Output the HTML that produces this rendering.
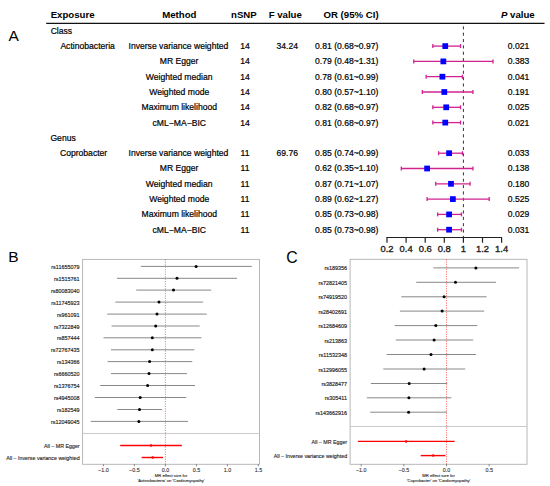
<!DOCTYPE html>
<html><head><meta charset="utf-8"><style>
html,body{margin:0;padding:0;background:#fff;width:550px;height:486px;overflow:hidden}
svg{display:block;font-family:"Liberation Sans",sans-serif}
</style></head><body>
<svg width="550" height="486" viewBox="0 0 550 486">
<rect width="550" height="486" fill="#fff"/>
<text x="8.50" y="40.50" font-size="15.5" text-anchor="start" font-weight="normal" font-style="normal" fill="#000" >A</text>
<text x="50.70" y="17.50" font-size="9.65" text-anchor="start" font-weight="bold" font-style="normal" fill="#000" >Exposure</text>
<text x="179.35" y="17.50" font-size="9.65" text-anchor="middle" font-weight="bold" font-style="normal" fill="#000" >Method</text>
<text x="243.90" y="17.50" font-size="9.65" text-anchor="middle" font-weight="bold" font-style="normal" fill="#000" >nSNP</text>
<text x="285.25" y="17.50" font-size="9.65" text-anchor="middle" font-weight="bold" font-style="normal" fill="#000" >F value</text>
<text x="323.50" y="17.50" font-size="9.65" text-anchor="start" font-weight="bold" font-style="normal" fill="#000" >OR (95% CI)</text>
<text x="501.0" y="17.5" font-size="9.65" font-weight="bold"><tspan font-style="italic">P</tspan> value</text>
<line x1="46.20" y1="23.30" x2="544.50" y2="23.30" stroke="#111" stroke-width="1.3" />
<text x="50.65" y="33.75" font-size="8.6" text-anchor="start" font-weight="normal" font-style="normal" fill="#000" stroke="#000" stroke-width="0.2" >Class</text>
<text x="50.45" y="140.85" font-size="8.6" text-anchor="start" font-weight="normal" font-style="normal" fill="#000" stroke="#000" stroke-width="0.2" >Genus</text>
<text x="60.40" y="49.05" font-size="8.6" text-anchor="start" font-weight="normal" font-style="normal" fill="#000" stroke="#000" stroke-width="0.2" >Actinobacteria</text>
<text x="59.95" y="156.15" font-size="8.6" text-anchor="start" font-weight="normal" font-style="normal" fill="#000" stroke="#000" stroke-width="0.2" >Coprobacter</text>
<line x1="463.40" y1="26.30" x2="463.40" y2="237.50" stroke="#333" stroke-width="1.0" stroke-dasharray="3.1,3.25"/>
<text x="178.45" y="49.05" font-size="8.6" text-anchor="middle" font-weight="normal" font-style="normal" fill="#000" stroke="#000" stroke-width="0.2" >Inverse variance weighted</text>
<text x="245.00" y="49.05" font-size="8.6" text-anchor="middle" font-weight="normal" font-style="normal" fill="#000" stroke="#000" stroke-width="0.2" >14</text>
<text x="276.55" y="49.05" font-size="8.6" text-anchor="start" font-weight="normal" font-style="normal" fill="#000" stroke="#000" stroke-width="0.2" >34.24</text>
<text x="315.05" y="49.05" font-size="8.6" text-anchor="start" font-weight="normal" font-style="normal" fill="#000" stroke="#000" stroke-width="0.2" >0.81 (0.68~0.97)</text>
<text x="507.85" y="49.05" font-size="8.6" text-anchor="start" font-weight="normal" font-style="normal" fill="#000" stroke="#000" stroke-width="0.2" >0.021</text>
<line x1="432.84" y1="46.10" x2="460.53" y2="46.10" stroke="#d2228f" stroke-width="1.3" />
<line x1="432.84" y1="44.10" x2="432.84" y2="48.10" stroke="#d2228f" stroke-width="1.3" />
<line x1="460.53" y1="44.10" x2="460.53" y2="48.10" stroke="#d2228f" stroke-width="1.3" />
<rect x="442.38" y="43.23" width="5.75" height="5.75" fill="#0000ff" />
<text x="179.10" y="64.35" font-size="8.6" text-anchor="middle" font-weight="normal" font-style="normal" fill="#000" stroke="#000" stroke-width="0.2" >MR Egger</text>
<text x="245.00" y="64.35" font-size="8.6" text-anchor="middle" font-weight="normal" font-style="normal" fill="#000" stroke="#000" stroke-width="0.2" >14</text>
<text x="315.05" y="64.35" font-size="8.6" text-anchor="start" font-weight="normal" font-style="normal" fill="#000" stroke="#000" stroke-width="0.2" >0.79 (0.48~1.31)</text>
<text x="507.85" y="64.35" font-size="8.6" text-anchor="start" font-weight="normal" font-style="normal" fill="#000" stroke="#000" stroke-width="0.2" >0.383</text>
<line x1="413.74" y1="61.40" x2="493.00" y2="61.40" stroke="#d2228f" stroke-width="1.3" />
<line x1="413.74" y1="59.40" x2="413.74" y2="63.40" stroke="#d2228f" stroke-width="1.3" />
<line x1="493.00" y1="59.40" x2="493.00" y2="63.40" stroke="#d2228f" stroke-width="1.3" />
<rect x="440.47" y="58.53" width="5.75" height="5.75" fill="#0000ff" />
<text x="179.20" y="79.65" font-size="8.6" text-anchor="middle" font-weight="normal" font-style="normal" fill="#000" stroke="#000" stroke-width="0.2" >Weighted median</text>
<text x="245.00" y="79.65" font-size="8.6" text-anchor="middle" font-weight="normal" font-style="normal" fill="#000" stroke="#000" stroke-width="0.2" >14</text>
<text x="315.05" y="79.65" font-size="8.6" text-anchor="start" font-weight="normal" font-style="normal" fill="#000" stroke="#000" stroke-width="0.2" >0.78 (0.61~0.99)</text>
<text x="507.85" y="79.65" font-size="8.6" text-anchor="start" font-weight="normal" font-style="normal" fill="#000" stroke="#000" stroke-width="0.2" >0.041</text>
<line x1="426.15" y1="76.70" x2="462.44" y2="76.70" stroke="#d2228f" stroke-width="1.3" />
<line x1="426.15" y1="74.70" x2="426.15" y2="78.70" stroke="#d2228f" stroke-width="1.3" />
<line x1="462.44" y1="74.70" x2="462.44" y2="78.70" stroke="#d2228f" stroke-width="1.3" />
<rect x="439.51" y="73.83" width="5.75" height="5.75" fill="#0000ff" />
<text x="179.25" y="94.95" font-size="8.6" text-anchor="middle" font-weight="normal" font-style="normal" fill="#000" stroke="#000" stroke-width="0.2" >Weighted mode</text>
<text x="245.00" y="94.95" font-size="8.6" text-anchor="middle" font-weight="normal" font-style="normal" fill="#000" stroke="#000" stroke-width="0.2" >14</text>
<text x="315.05" y="94.95" font-size="8.6" text-anchor="start" font-weight="normal" font-style="normal" fill="#000" stroke="#000" stroke-width="0.2" >0.80 (0.57~1.10)</text>
<text x="507.85" y="94.95" font-size="8.6" text-anchor="start" font-weight="normal" font-style="normal" fill="#000" stroke="#000" stroke-width="0.2" >0.191</text>
<line x1="422.33" y1="92.00" x2="472.95" y2="92.00" stroke="#d2228f" stroke-width="1.3" />
<line x1="422.33" y1="90.00" x2="422.33" y2="94.00" stroke="#d2228f" stroke-width="1.3" />
<line x1="472.95" y1="90.00" x2="472.95" y2="94.00" stroke="#d2228f" stroke-width="1.3" />
<rect x="441.42" y="89.12" width="5.75" height="5.75" fill="#0000ff" />
<text x="179.30" y="110.25" font-size="8.6" text-anchor="middle" font-weight="normal" font-style="normal" fill="#000" stroke="#000" stroke-width="0.2" >Maximum likelihood</text>
<text x="245.00" y="110.25" font-size="8.6" text-anchor="middle" font-weight="normal" font-style="normal" fill="#000" stroke="#000" stroke-width="0.2" >14</text>
<text x="315.05" y="110.25" font-size="8.6" text-anchor="start" font-weight="normal" font-style="normal" fill="#000" stroke="#000" stroke-width="0.2" >0.82 (0.68~0.97)</text>
<text x="507.85" y="110.25" font-size="8.6" text-anchor="start" font-weight="normal" font-style="normal" fill="#000" stroke="#000" stroke-width="0.2" >0.025</text>
<line x1="432.84" y1="107.30" x2="460.53" y2="107.30" stroke="#d2228f" stroke-width="1.3" />
<line x1="432.84" y1="105.30" x2="432.84" y2="109.30" stroke="#d2228f" stroke-width="1.3" />
<line x1="460.53" y1="105.30" x2="460.53" y2="109.30" stroke="#d2228f" stroke-width="1.3" />
<rect x="443.33" y="104.43" width="5.75" height="5.75" fill="#0000ff" />
<text x="179.30" y="125.55" font-size="8.6" text-anchor="middle" font-weight="normal" font-style="normal" fill="#000" stroke="#000" stroke-width="0.2" >cML−MA−BIC</text>
<text x="245.00" y="125.55" font-size="8.6" text-anchor="middle" font-weight="normal" font-style="normal" fill="#000" stroke="#000" stroke-width="0.2" >14</text>
<text x="315.05" y="125.55" font-size="8.6" text-anchor="start" font-weight="normal" font-style="normal" fill="#000" stroke="#000" stroke-width="0.2" >0.81 (0.68~0.97)</text>
<text x="507.85" y="125.55" font-size="8.6" text-anchor="start" font-weight="normal" font-style="normal" fill="#000" stroke="#000" stroke-width="0.2" >0.021</text>
<line x1="432.84" y1="122.60" x2="460.53" y2="122.60" stroke="#d2228f" stroke-width="1.3" />
<line x1="432.84" y1="120.60" x2="432.84" y2="124.60" stroke="#d2228f" stroke-width="1.3" />
<line x1="460.53" y1="120.60" x2="460.53" y2="124.60" stroke="#d2228f" stroke-width="1.3" />
<rect x="442.38" y="119.72" width="5.75" height="5.75" fill="#0000ff" />
<text x="178.45" y="156.15" font-size="8.6" text-anchor="middle" font-weight="normal" font-style="normal" fill="#000" stroke="#000" stroke-width="0.2" >Inverse variance weighted</text>
<text x="245.00" y="156.15" font-size="8.6" text-anchor="middle" font-weight="normal" font-style="normal" fill="#000" stroke="#000" stroke-width="0.2" >11</text>
<text x="276.55" y="156.15" font-size="8.6" text-anchor="start" font-weight="normal" font-style="normal" fill="#000" stroke="#000" stroke-width="0.2" >69.76</text>
<text x="315.05" y="156.15" font-size="8.6" text-anchor="start" font-weight="normal" font-style="normal" fill="#000" stroke="#000" stroke-width="0.2" >0.85 (0.74~0.99)</text>
<text x="507.85" y="156.15" font-size="8.6" text-anchor="start" font-weight="normal" font-style="normal" fill="#000" stroke="#000" stroke-width="0.2" >0.033</text>
<line x1="438.57" y1="153.20" x2="462.44" y2="153.20" stroke="#d2228f" stroke-width="1.3" />
<line x1="438.57" y1="151.20" x2="438.57" y2="155.20" stroke="#d2228f" stroke-width="1.3" />
<line x1="462.44" y1="151.20" x2="462.44" y2="155.20" stroke="#d2228f" stroke-width="1.3" />
<rect x="446.20" y="150.33" width="5.75" height="5.75" fill="#0000ff" />
<text x="179.10" y="171.45" font-size="8.6" text-anchor="middle" font-weight="normal" font-style="normal" fill="#000" stroke="#000" stroke-width="0.2" >MR Egger</text>
<text x="245.00" y="171.45" font-size="8.6" text-anchor="middle" font-weight="normal" font-style="normal" fill="#000" stroke="#000" stroke-width="0.2" >11</text>
<text x="315.05" y="171.45" font-size="8.6" text-anchor="start" font-weight="normal" font-style="normal" fill="#000" stroke="#000" stroke-width="0.2" >0.62 (0.35~1.10)</text>
<text x="507.85" y="171.45" font-size="8.6" text-anchor="start" font-weight="normal" font-style="normal" fill="#000" stroke="#000" stroke-width="0.2" >0.138</text>
<line x1="401.32" y1="168.50" x2="472.95" y2="168.50" stroke="#d2228f" stroke-width="1.3" />
<line x1="401.32" y1="166.50" x2="401.32" y2="170.50" stroke="#d2228f" stroke-width="1.3" />
<line x1="472.95" y1="166.50" x2="472.95" y2="170.50" stroke="#d2228f" stroke-width="1.3" />
<rect x="424.23" y="165.62" width="5.75" height="5.75" fill="#0000ff" />
<text x="179.20" y="186.75" font-size="8.6" text-anchor="middle" font-weight="normal" font-style="normal" fill="#000" stroke="#000" stroke-width="0.2" >Weighted median</text>
<text x="245.00" y="186.75" font-size="8.6" text-anchor="middle" font-weight="normal" font-style="normal" fill="#000" stroke="#000" stroke-width="0.2" >11</text>
<text x="315.05" y="186.75" font-size="8.6" text-anchor="start" font-weight="normal" font-style="normal" fill="#000" stroke="#000" stroke-width="0.2" >0.87 (0.71~1.07)</text>
<text x="507.85" y="186.75" font-size="8.6" text-anchor="start" font-weight="normal" font-style="normal" fill="#000" stroke="#000" stroke-width="0.2" >0.180</text>
<line x1="435.70" y1="183.80" x2="470.08" y2="183.80" stroke="#d2228f" stroke-width="1.3" />
<line x1="435.70" y1="181.80" x2="435.70" y2="185.80" stroke="#d2228f" stroke-width="1.3" />
<line x1="470.08" y1="181.80" x2="470.08" y2="185.80" stroke="#d2228f" stroke-width="1.3" />
<rect x="448.11" y="180.93" width="5.75" height="5.75" fill="#0000ff" />
<text x="179.25" y="202.05" font-size="8.6" text-anchor="middle" font-weight="normal" font-style="normal" fill="#000" stroke="#000" stroke-width="0.2" >Weighted mode</text>
<text x="245.00" y="202.05" font-size="8.6" text-anchor="middle" font-weight="normal" font-style="normal" fill="#000" stroke="#000" stroke-width="0.2" >11</text>
<text x="315.05" y="202.05" font-size="8.6" text-anchor="start" font-weight="normal" font-style="normal" fill="#000" stroke="#000" stroke-width="0.2" >0.89 (0.62~1.27)</text>
<text x="507.85" y="202.05" font-size="8.6" text-anchor="start" font-weight="normal" font-style="normal" fill="#000" stroke="#000" stroke-width="0.2" >0.525</text>
<line x1="427.11" y1="199.10" x2="489.19" y2="199.10" stroke="#d2228f" stroke-width="1.3" />
<line x1="427.11" y1="197.10" x2="427.11" y2="201.10" stroke="#d2228f" stroke-width="1.3" />
<line x1="489.19" y1="197.10" x2="489.19" y2="201.10" stroke="#d2228f" stroke-width="1.3" />
<rect x="450.02" y="196.22" width="5.75" height="5.75" fill="#0000ff" />
<text x="179.30" y="217.35" font-size="8.6" text-anchor="middle" font-weight="normal" font-style="normal" fill="#000" stroke="#000" stroke-width="0.2" >Maximum likelihood</text>
<text x="245.00" y="217.35" font-size="8.6" text-anchor="middle" font-weight="normal" font-style="normal" fill="#000" stroke="#000" stroke-width="0.2" >11</text>
<text x="315.05" y="217.35" font-size="8.6" text-anchor="start" font-weight="normal" font-style="normal" fill="#000" stroke="#000" stroke-width="0.2" >0.85 (0.73~0.98)</text>
<text x="507.85" y="217.35" font-size="8.6" text-anchor="start" font-weight="normal" font-style="normal" fill="#000" stroke="#000" stroke-width="0.2" >0.029</text>
<line x1="437.61" y1="214.40" x2="461.49" y2="214.40" stroke="#d2228f" stroke-width="1.3" />
<line x1="437.61" y1="212.40" x2="437.61" y2="216.40" stroke="#d2228f" stroke-width="1.3" />
<line x1="461.49" y1="212.40" x2="461.49" y2="216.40" stroke="#d2228f" stroke-width="1.3" />
<rect x="446.20" y="211.53" width="5.75" height="5.75" fill="#0000ff" />
<text x="179.30" y="232.65" font-size="8.6" text-anchor="middle" font-weight="normal" font-style="normal" fill="#000" stroke="#000" stroke-width="0.2" >cML−MA−BIC</text>
<text x="245.00" y="232.65" font-size="8.6" text-anchor="middle" font-weight="normal" font-style="normal" fill="#000" stroke="#000" stroke-width="0.2" >11</text>
<text x="315.05" y="232.65" font-size="8.6" text-anchor="start" font-weight="normal" font-style="normal" fill="#000" stroke="#000" stroke-width="0.2" >0.85 (0.73~0.98)</text>
<text x="507.85" y="232.65" font-size="8.6" text-anchor="start" font-weight="normal" font-style="normal" fill="#000" stroke="#000" stroke-width="0.2" >0.031</text>
<line x1="437.61" y1="229.70" x2="461.49" y2="229.70" stroke="#d2228f" stroke-width="1.3" />
<line x1="437.61" y1="227.70" x2="437.61" y2="231.70" stroke="#d2228f" stroke-width="1.3" />
<line x1="461.49" y1="227.70" x2="461.49" y2="231.70" stroke="#d2228f" stroke-width="1.3" />
<rect x="446.20" y="226.83" width="5.75" height="5.75" fill="#0000ff" />
<line x1="386.40" y1="237.50" x2="502.00" y2="237.50" stroke="#222" stroke-width="1.2" />
<line x1="387.00" y1="237.50" x2="387.00" y2="242.70" stroke="#222" stroke-width="1.2" />
<text x="387.00" y="251.60" font-size="9.4" text-anchor="middle" font-weight="normal" font-style="normal" fill="#222" stroke="#222" stroke-width="0.35" >0.2</text>
<line x1="406.10" y1="237.50" x2="406.10" y2="242.70" stroke="#222" stroke-width="1.2" />
<text x="406.10" y="251.60" font-size="9.4" text-anchor="middle" font-weight="normal" font-style="normal" fill="#222" stroke="#222" stroke-width="0.35" >0.4</text>
<line x1="425.20" y1="237.50" x2="425.20" y2="242.70" stroke="#222" stroke-width="1.2" />
<text x="425.20" y="251.60" font-size="9.4" text-anchor="middle" font-weight="normal" font-style="normal" fill="#222" stroke="#222" stroke-width="0.35" >0.6</text>
<line x1="444.30" y1="237.50" x2="444.30" y2="242.70" stroke="#222" stroke-width="1.2" />
<text x="444.30" y="251.60" font-size="9.4" text-anchor="middle" font-weight="normal" font-style="normal" fill="#222" stroke="#222" stroke-width="0.35" >0.8</text>
<line x1="463.40" y1="237.50" x2="463.40" y2="242.70" stroke="#222" stroke-width="1.2" />
<text x="463.40" y="251.60" font-size="9.4" text-anchor="middle" font-weight="normal" font-style="normal" fill="#222" stroke="#222" stroke-width="0.35" >1</text>
<line x1="482.50" y1="237.50" x2="482.50" y2="242.70" stroke="#222" stroke-width="1.2" />
<text x="482.50" y="251.60" font-size="9.4" text-anchor="middle" font-weight="normal" font-style="normal" fill="#222" stroke="#222" stroke-width="0.35" >1.2</text>
<line x1="501.60" y1="237.50" x2="501.60" y2="242.70" stroke="#222" stroke-width="1.2" />
<text x="501.60" y="251.60" font-size="9.4" text-anchor="middle" font-weight="normal" font-style="normal" fill="#222" stroke="#222" stroke-width="0.35" >1.4</text>
<text x="8.30" y="262.20" font-size="15.5" text-anchor="start" font-weight="normal" font-style="normal" fill="#000" >B</text>
<rect x="82.60" y="259.40" width="176.90" height="204.90" fill="none" stroke="#b0b0b0" stroke-width="0.9"/>
<line x1="82.60" y1="433.50" x2="259.50" y2="433.50" stroke="#c0c0c0" stroke-width="0.85" />
<line x1="165.40" y1="259.40" x2="165.40" y2="464.30" stroke="#ff4040" stroke-width="0.7" stroke-dasharray="1.2,1.2"/>
<text x="79.40" y="268.90" font-size="5.4" text-anchor="end" font-weight="normal" font-style="normal" fill="#222" stroke="#222" stroke-width="0.15" >rs11655079</text>
<line x1="140.90" y1="266.40" x2="251.80" y2="266.40" stroke="#888" stroke-width="1.0" />
<circle cx="196.10" cy="266.40" r="1.5" fill="#000"/>
<text x="79.40" y="280.80" font-size="5.4" text-anchor="end" font-weight="normal" font-style="normal" fill="#222" stroke="#222" stroke-width="0.15" >rs1515761</text>
<line x1="117.00" y1="278.30" x2="237.00" y2="278.30" stroke="#888" stroke-width="1.0" />
<circle cx="177.00" cy="278.30" r="1.5" fill="#000"/>
<text x="79.40" y="292.60" font-size="5.4" text-anchor="end" font-weight="normal" font-style="normal" fill="#222" stroke="#222" stroke-width="0.15" >rs80083040</text>
<line x1="136.20" y1="290.10" x2="211.20" y2="290.10" stroke="#888" stroke-width="1.0" />
<circle cx="173.50" cy="290.10" r="1.5" fill="#000"/>
<text x="79.40" y="304.60" font-size="5.4" text-anchor="end" font-weight="normal" font-style="normal" fill="#222" stroke="#222" stroke-width="0.15" >rs11745923</text>
<line x1="115.30" y1="302.10" x2="203.10" y2="302.10" stroke="#888" stroke-width="1.0" />
<circle cx="159.00" cy="302.10" r="1.5" fill="#000"/>
<text x="79.40" y="316.60" font-size="5.4" text-anchor="end" font-weight="normal" font-style="normal" fill="#222" stroke="#222" stroke-width="0.15" >rs961091</text>
<line x1="107.20" y1="314.10" x2="206.80" y2="314.10" stroke="#888" stroke-width="1.0" />
<circle cx="157.00" cy="314.10" r="1.5" fill="#000"/>
<text x="79.40" y="328.50" font-size="5.4" text-anchor="end" font-weight="normal" font-style="normal" fill="#222" stroke="#222" stroke-width="0.15" >rs7322849</text>
<line x1="111.60" y1="326.00" x2="199.70" y2="326.00" stroke="#888" stroke-width="1.0" />
<circle cx="155.70" cy="326.00" r="1.5" fill="#000"/>
<text x="79.40" y="340.30" font-size="5.4" text-anchor="end" font-weight="normal" font-style="normal" fill="#222" stroke="#222" stroke-width="0.15" >rs857444</text>
<line x1="103.50" y1="337.80" x2="201.40" y2="337.80" stroke="#888" stroke-width="1.0" />
<circle cx="152.30" cy="337.80" r="1.5" fill="#000"/>
<text x="79.40" y="352.30" font-size="5.4" text-anchor="end" font-weight="normal" font-style="normal" fill="#222" stroke="#222" stroke-width="0.15" >rs72767435</text>
<line x1="111.00" y1="349.80" x2="194.40" y2="349.80" stroke="#888" stroke-width="1.0" />
<circle cx="152.30" cy="349.80" r="1.5" fill="#000"/>
<text x="79.40" y="364.10" font-size="5.4" text-anchor="end" font-weight="normal" font-style="normal" fill="#222" stroke="#222" stroke-width="0.15" >rs134366</text>
<line x1="107.60" y1="361.60" x2="192.30" y2="361.60" stroke="#888" stroke-width="1.0" />
<circle cx="149.60" cy="361.60" r="1.5" fill="#000"/>
<text x="79.40" y="376.10" font-size="5.4" text-anchor="end" font-weight="normal" font-style="normal" fill="#222" stroke="#222" stroke-width="0.15" >rs6660520</text>
<line x1="111.00" y1="373.60" x2="187.00" y2="373.60" stroke="#888" stroke-width="1.0" />
<circle cx="149.00" cy="373.60" r="1.5" fill="#000"/>
<text x="79.40" y="388.00" font-size="5.4" text-anchor="end" font-weight="normal" font-style="normal" fill="#222" stroke="#222" stroke-width="0.15" >rs1376754</text>
<line x1="100.20" y1="385.50" x2="195.00" y2="385.50" stroke="#888" stroke-width="1.0" />
<circle cx="147.60" cy="385.50" r="1.5" fill="#000"/>
<text x="79.40" y="400.00" font-size="5.4" text-anchor="end" font-weight="normal" font-style="normal" fill="#222" stroke="#222" stroke-width="0.15" >rs4945008</text>
<line x1="94.80" y1="397.50" x2="186.30" y2="397.50" stroke="#888" stroke-width="1.0" />
<circle cx="140.20" cy="397.50" r="1.5" fill="#000"/>
<text x="79.40" y="412.00" font-size="5.4" text-anchor="end" font-weight="normal" font-style="normal" fill="#222" stroke="#222" stroke-width="0.15" >rs182549</text>
<line x1="117.30" y1="409.50" x2="162.10" y2="409.50" stroke="#888" stroke-width="1.0" />
<circle cx="139.50" cy="409.50" r="1.5" fill="#000"/>
<text x="79.40" y="423.90" font-size="5.4" text-anchor="end" font-weight="normal" font-style="normal" fill="#222" stroke="#222" stroke-width="0.15" >rs12049045</text>
<line x1="90.80" y1="421.40" x2="188.00" y2="421.40" stroke="#888" stroke-width="1.0" />
<circle cx="138.90" cy="421.40" r="1.5" fill="#000"/>
<text x="79.60" y="448.00" font-size="5.3" text-anchor="end" font-weight="normal" font-style="normal" fill="#222" stroke="#222" stroke-width="0.12" >All – MR Egger</text>
<line x1="120.20" y1="445.50" x2="181.80" y2="445.50" stroke="#ff0000" stroke-width="1.4" />
<circle cx="151.00" cy="445.50" r="1.25" fill="#ff0000"/>
<text x="79.60" y="460.00" font-size="5.3" text-anchor="end" font-weight="normal" font-style="normal" fill="#222" stroke="#222" stroke-width="0.12" >All – Inverse variance weighted</text>
<line x1="141.60" y1="457.50" x2="163.10" y2="457.50" stroke="#ff0000" stroke-width="1.4" />
<circle cx="152.60" cy="457.50" r="1.25" fill="#ff0000"/>
<line x1="103.40" y1="464.30" x2="103.40" y2="466.30" stroke="#666" stroke-width="0.8" />
<text x="103.40" y="471.80" font-size="5.35" text-anchor="middle" font-weight="normal" font-style="normal" fill="#333" stroke="#333" stroke-width="0.1" >−1.0</text>
<line x1="134.40" y1="464.30" x2="134.40" y2="466.30" stroke="#666" stroke-width="0.8" />
<text x="134.40" y="471.80" font-size="5.35" text-anchor="middle" font-weight="normal" font-style="normal" fill="#333" stroke="#333" stroke-width="0.1" >−0.5</text>
<line x1="165.40" y1="464.30" x2="165.40" y2="466.30" stroke="#666" stroke-width="0.8" />
<text x="165.40" y="471.80" font-size="5.35" text-anchor="middle" font-weight="normal" font-style="normal" fill="#333" stroke="#333" stroke-width="0.1" >0.0</text>
<line x1="196.40" y1="464.30" x2="196.40" y2="466.30" stroke="#666" stroke-width="0.8" />
<text x="196.40" y="471.80" font-size="5.35" text-anchor="middle" font-weight="normal" font-style="normal" fill="#333" stroke="#333" stroke-width="0.1" >0.5</text>
<line x1="227.40" y1="464.30" x2="227.40" y2="466.30" stroke="#666" stroke-width="0.8" />
<text x="227.40" y="471.80" font-size="5.35" text-anchor="middle" font-weight="normal" font-style="normal" fill="#333" stroke="#333" stroke-width="0.1" >1.0</text>
<line x1="258.40" y1="464.30" x2="258.40" y2="466.30" stroke="#666" stroke-width="0.8" />
<text x="258.40" y="471.80" font-size="5.35" text-anchor="middle" font-weight="normal" font-style="normal" fill="#333" stroke="#333" stroke-width="0.1" >1.5</text>
<text x="171.05" y="477.00" font-size="4.2" text-anchor="middle" font-weight="normal" font-style="normal" fill="#222" stroke="#222" stroke-width="0.1" >MR effect size for</text>
<text x="171.05" y="481.90" font-size="4.2" text-anchor="middle" font-weight="normal" font-style="normal" fill="#222" stroke="#222" stroke-width="0.1" >'Actinobacteria' on 'Cardiomyopathy'</text>
<text x="286.30" y="262.50" font-size="15.8" text-anchor="start" font-weight="normal" font-style="normal" fill="#000" >C</text>
<rect x="350.10" y="259.30" width="176.90" height="205.00" fill="none" stroke="#b0b0b0" stroke-width="0.9"/>
<line x1="350.10" y1="426.50" x2="527.00" y2="426.50" stroke="#c0c0c0" stroke-width="0.85" />
<line x1="446.50" y1="259.30" x2="446.50" y2="464.30" stroke="#ff4040" stroke-width="0.7" stroke-dasharray="1.2,1.2"/>
<text x="346.90" y="270.40" font-size="5.4" text-anchor="end" font-weight="normal" font-style="normal" fill="#222" stroke="#222" stroke-width="0.15" >rs189356</text>
<line x1="433.40" y1="267.90" x2="519.10" y2="267.90" stroke="#888" stroke-width="1.0" />
<circle cx="475.90" cy="267.90" r="1.5" fill="#000"/>
<text x="346.90" y="284.80" font-size="5.4" text-anchor="end" font-weight="normal" font-style="normal" fill="#222" stroke="#222" stroke-width="0.15" >rs72821405</text>
<line x1="416.20" y1="282.30" x2="496.00" y2="282.30" stroke="#888" stroke-width="1.0" />
<circle cx="455.50" cy="282.30" r="1.5" fill="#000"/>
<text x="346.90" y="299.30" font-size="5.4" text-anchor="end" font-weight="normal" font-style="normal" fill="#222" stroke="#222" stroke-width="0.15" >rs74919520</text>
<line x1="401.30" y1="296.80" x2="486.60" y2="296.80" stroke="#888" stroke-width="1.0" />
<circle cx="444.10" cy="296.80" r="1.5" fill="#000"/>
<text x="346.90" y="313.60" font-size="5.4" text-anchor="end" font-weight="normal" font-style="normal" fill="#222" stroke="#222" stroke-width="0.15" >rs28402691</text>
<line x1="399.90" y1="311.10" x2="484.20" y2="311.10" stroke="#888" stroke-width="1.0" />
<circle cx="442.10" cy="311.10" r="1.5" fill="#000"/>
<text x="346.90" y="328.10" font-size="5.4" text-anchor="end" font-weight="normal" font-style="normal" fill="#222" stroke="#222" stroke-width="0.15" >rs12684609</text>
<line x1="394.70" y1="325.60" x2="477.30" y2="325.60" stroke="#888" stroke-width="1.0" />
<circle cx="435.80" cy="325.60" r="1.5" fill="#000"/>
<text x="346.90" y="342.50" font-size="5.4" text-anchor="end" font-weight="normal" font-style="normal" fill="#222" stroke="#222" stroke-width="0.15" >rs213863</text>
<line x1="395.80" y1="340.00" x2="473.20" y2="340.00" stroke="#888" stroke-width="1.0" />
<circle cx="434.10" cy="340.00" r="1.5" fill="#000"/>
<text x="346.90" y="357.00" font-size="5.4" text-anchor="end" font-weight="normal" font-style="normal" fill="#222" stroke="#222" stroke-width="0.15" >rs11532348</text>
<line x1="386.80" y1="354.50" x2="475.90" y2="354.50" stroke="#888" stroke-width="1.0" />
<circle cx="431.00" cy="354.50" r="1.5" fill="#000"/>
<text x="346.90" y="371.50" font-size="5.4" text-anchor="end" font-weight="normal" font-style="normal" fill="#222" stroke="#222" stroke-width="0.15" >rs12996055</text>
<line x1="383.30" y1="369.00" x2="465.20" y2="369.00" stroke="#888" stroke-width="1.0" />
<circle cx="424.10" cy="369.00" r="1.5" fill="#000"/>
<text x="346.90" y="386.00" font-size="5.4" text-anchor="end" font-weight="normal" font-style="normal" fill="#222" stroke="#222" stroke-width="0.15" >rs3828477</text>
<line x1="370.90" y1="383.50" x2="447.20" y2="383.50" stroke="#888" stroke-width="1.0" />
<circle cx="409.20" cy="383.50" r="1.5" fill="#000"/>
<text x="346.90" y="400.30" font-size="5.4" text-anchor="end" font-weight="normal" font-style="normal" fill="#222" stroke="#222" stroke-width="0.15" >rs305411</text>
<line x1="366.80" y1="397.80" x2="451.40" y2="397.80" stroke="#888" stroke-width="1.0" />
<circle cx="408.90" cy="397.80" r="1.5" fill="#000"/>
<text x="346.90" y="414.70" font-size="5.4" text-anchor="end" font-weight="normal" font-style="normal" fill="#222" stroke="#222" stroke-width="0.15" >rs143662916</text>
<line x1="370.20" y1="412.20" x2="446.90" y2="412.20" stroke="#888" stroke-width="1.0" />
<circle cx="408.60" cy="412.20" r="1.5" fill="#000"/>
<text x="347.10" y="443.90" font-size="5.3" text-anchor="end" font-weight="normal" font-style="normal" fill="#222" stroke="#222" stroke-width="0.12" >All – MR Egger</text>
<line x1="357.90" y1="441.40" x2="454.60" y2="441.40" stroke="#ff0000" stroke-width="1.4" />
<circle cx="406.10" cy="441.40" r="1.25" fill="#ff0000"/>
<text x="347.10" y="458.10" font-size="5.3" text-anchor="end" font-weight="normal" font-style="normal" fill="#222" stroke="#222" stroke-width="0.12" >All – Inverse variance weighted</text>
<line x1="420.70" y1="455.60" x2="445.40" y2="455.60" stroke="#ff0000" stroke-width="1.4" />
<circle cx="433.20" cy="455.60" r="1.25" fill="#ff0000"/>
<line x1="361.20" y1="464.30" x2="361.20" y2="466.30" stroke="#666" stroke-width="0.8" />
<text x="361.20" y="471.80" font-size="5.35" text-anchor="middle" font-weight="normal" font-style="normal" fill="#333" stroke="#333" stroke-width="0.1" >−1.0</text>
<line x1="403.85" y1="464.30" x2="403.85" y2="466.30" stroke="#666" stroke-width="0.8" />
<text x="403.85" y="471.80" font-size="5.35" text-anchor="middle" font-weight="normal" font-style="normal" fill="#333" stroke="#333" stroke-width="0.1" >−0.5</text>
<line x1="446.50" y1="464.30" x2="446.50" y2="466.30" stroke="#666" stroke-width="0.8" />
<text x="446.50" y="471.80" font-size="5.35" text-anchor="middle" font-weight="normal" font-style="normal" fill="#333" stroke="#333" stroke-width="0.1" >0.0</text>
<line x1="489.15" y1="464.30" x2="489.15" y2="466.30" stroke="#666" stroke-width="0.8" />
<text x="489.15" y="471.80" font-size="5.35" text-anchor="middle" font-weight="normal" font-style="normal" fill="#333" stroke="#333" stroke-width="0.1" >0.5</text>
<text x="438.55" y="477.00" font-size="4.2" text-anchor="middle" font-weight="normal" font-style="normal" fill="#222" stroke="#222" stroke-width="0.1" >MR effect size for</text>
<text x="438.55" y="481.90" font-size="4.2" text-anchor="middle" font-weight="normal" font-style="normal" fill="#222" stroke="#222" stroke-width="0.1" >'Coprobacter' on 'Cardiomyopathy'</text>
</svg>
</body></html>
